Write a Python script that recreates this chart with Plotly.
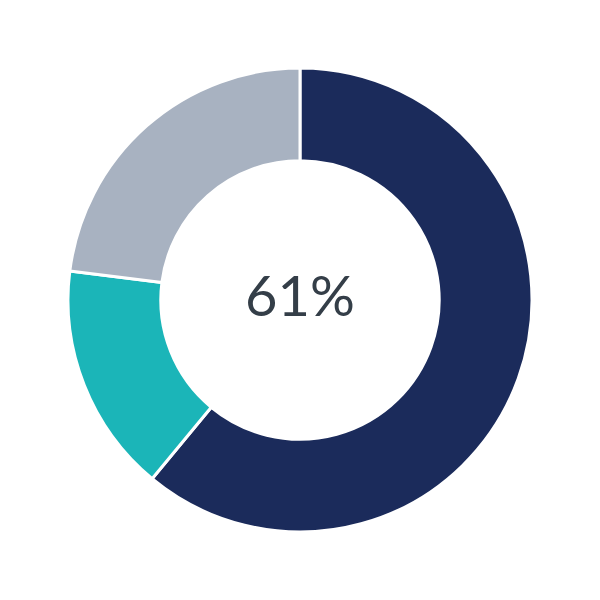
import plotly.graph_objects as go

labels = ["A", "B", "C"]
values = [61, 16, 23]
colors = ["#1b2b5b", "#1bb5b8", "#a8b2c1"]
center_text = "61%"

fig = go.Figure(go.Pie(
    labels=labels,
    values=values,
    hole=0.6,
    sort=False,
    direction="clockwise",
    rotation=0,
    marker=dict(colors=colors, line=dict(color="white", width=3)),
    textinfo="none",
    hoverinfo="none",
    domain=dict(x=[60/600, 524/600], y=[76/600, 540/600]),
))
fig.update_layout(
    width=600, height=600,
    margin=dict(l=0, r=0, t=0, b=0),
    showlegend=False,
    paper_bgcolor="white",
    annotations=[dict(text=center_text, x=292/600, y=314/600, xref="paper", yref="paper",
                      showarrow=False, font=dict(family="Lato", size=56, color="#343e48"))],
)
fig.write_html("out.html")
